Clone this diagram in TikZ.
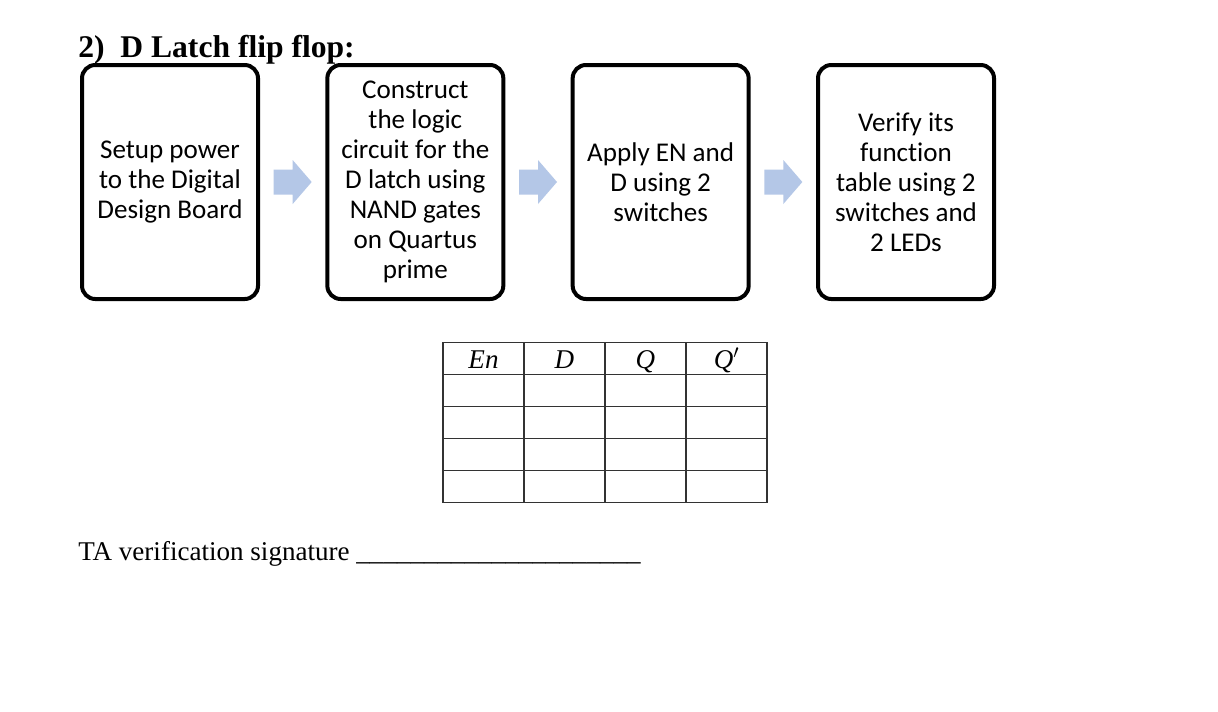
\documentclass[tikz,border=0pt]{standalone}
\usepackage{fontspec}
\setmainfont{Liberation Serif}
\newfontfamily\boxfont[Ligatures=NoCommon]{Carlito}
\usetikzlibrary{positioning,matrix,calc}
\definecolor{arrowblue}{RGB}{180,199,231}
\tikzset{
	stepbox/.style={draw,line width=3pt,rounded corners=10pt,minimum width=132pt,minimum height=175.5pt,
		align=center,inner sep=0pt,font=\boxfont\fontsize{20.3}{22.5}\selectfont},
	flowarrow/.pic={\fill[arrowblue] (-19,-12.5)--(0,-12.5)--(0,-22)--(19,0)--(0,22)--(0,12.5)--(-19,12.5)--cycle;}
}

\begin{document}
\begin{tikzpicture}[x=0.75pt,y=-0.75pt]
		\path[use as bounding box,fill=white] (0,0) rectangle (1218,711);
		
		\node[anchor=base west,inner sep=0pt,font=\bfseries\fontsize{23.7}{28}\selectfont] (title) at (78,57) {2)\ \ D Latch flip flop:};
		
		\node[stepbox] (s1) at (170,182) {Setup power\\to the Digital\\Design Board};
		\node[stepbox,right=49pt of s1] (s2) {Construct\\the logic\\circuit for the\\D latch using\\NAND gates\\on Quartus\\prime};
		\node[stepbox,right=49pt of s2] (s3) {Apply EN and\\D using 2\\switches};
		\node[stepbox,right=49pt of s3] (s4) {Verify its\\function\\table using 2\\switches and\\2 LEDs};
		
		\pic at ($(s1)!0.5!(s2)$) {flowarrow};
		\pic at ($(s2)!0.5!(s3)$) {flowarrow};
		\pic at ($(s3)!0.5!(s4)$) {flowarrow};
		
		\matrix(t)[matrix of nodes,nodes in empty cells,column sep=-0.8pt,row sep=-0.8pt,
			nodes={draw=black!80,line width=0.8pt,minimum width=60.75pt,text height=19.6pt,text depth=4.5pt,
				inner sep=0pt,anchor=center,font=\itshape\fontsize{20.3}{24}\selectfont}] at (605,422.5) {
			En & D & Q & Q$'$ \\
			 & & & \\
			 & & & \\
			 & & & \\
			 & & & \\
		};
		
		\node[anchor=base west,inner sep=0pt,font=\fontsize{20.3}{24}\selectfont] (sig) at (78,560)
			{TA verification signature \_\_\_\_\_\_\_\_\_\_\_\_\_\_\_\_\_\_\_\_\_};
\end{tikzpicture}
\end{document}
